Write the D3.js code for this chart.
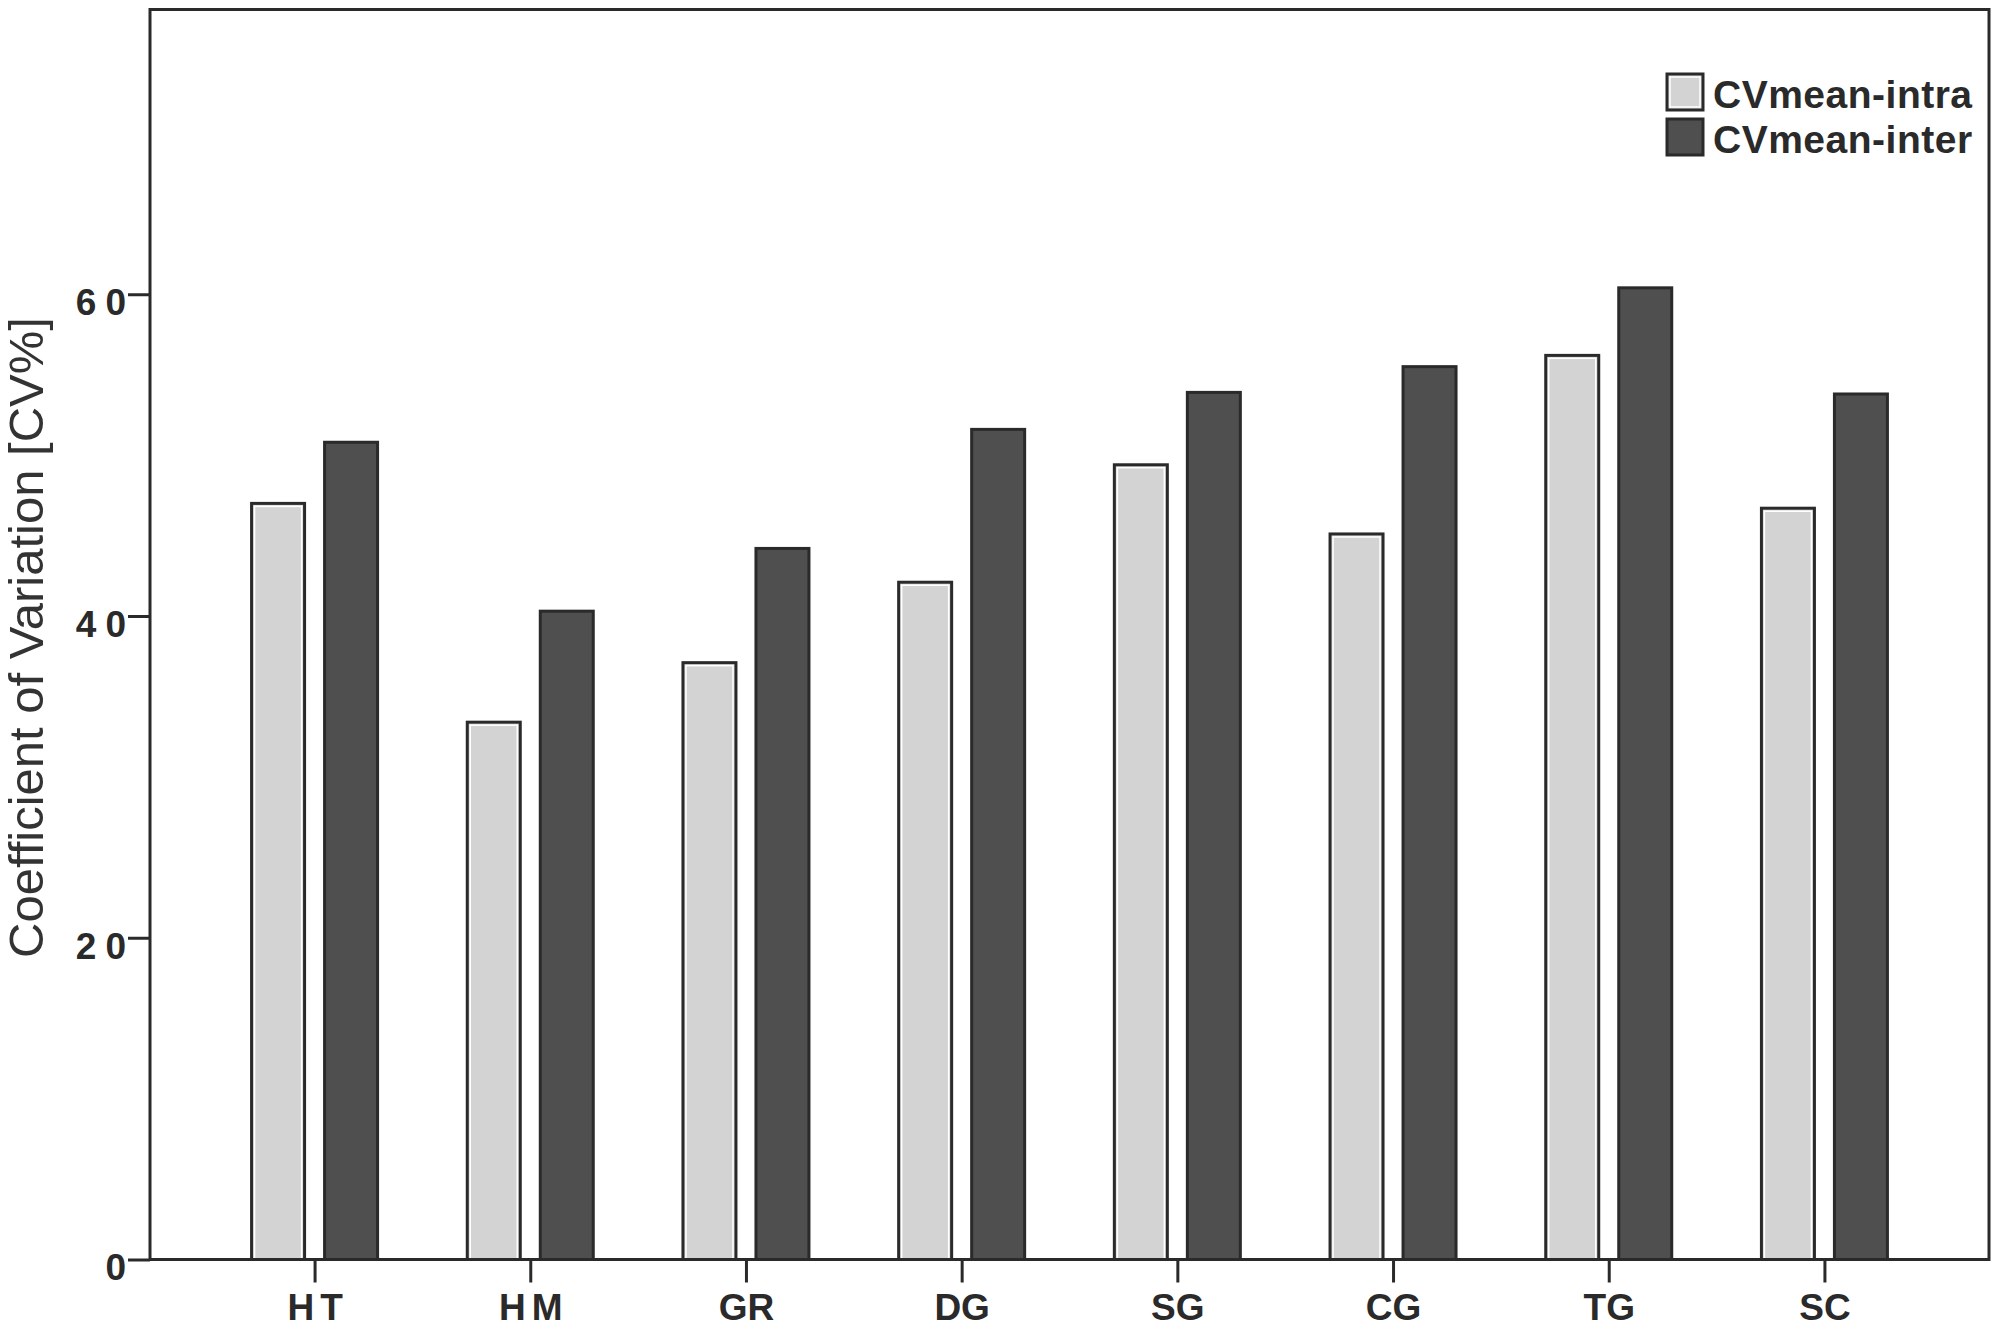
<!DOCTYPE html>
<html>
<head>
<meta charset="utf-8">
<script src="https://cdn.jsdelivr.net/npm/d3@7"></script>
<style>
  body { margin: 0; background: #fff; }
  svg { display: block; font-family: "Liberation Sans", Arial, Helvetica, sans-serif; }
</style>
</head>
<body>
<div id="chart"></div>
<script>
// values (CV%)
const categories = ["HT", "HM", "GR", "DG", "SG", "CG", "TG", "SC"];
const intraValues = [47.0, 33.4, 37.1, 42.1, 49.4, 45.1, 56.2, 46.7];
const interValues = [50.8, 40.3, 44.2, 51.6, 53.9, 55.5, 60.4, 53.8];
const seriesNames = ["CVmean-intra", "CVmean-inter"];
const seriesColors = ["#d3d3d3", "#4f4f4f"];
const yTicks = [0, 20, 40, 60];

const width = 2000, height = 1329;
const margin = { top: 9.5, right: 11, bottom: 69.5, left: 150 };
const w = width - margin.left - margin.right;
const h = height - margin.top - margin.bottom;
const ink = "#2a2a2a";

const svg = d3.select("#chart").append("svg")
    .attr("width", width).attr("height", height);
svg.append("rect").attr("width", width).attr("height", height).attr("fill", "#fff");

const g = svg.append("g").attr("transform", `translate(${margin.left},${margin.top})`);

const x = d3.scalePoint().domain(categories).range([0, w]).padding(0.763);
const sub = d3.scaleBand().domain(seriesNames).range([-63, 63]).paddingInner(0.274);
const y = d3.scaleLinear().domain([0, 77.7]).range([h, 0]);

const rows = categories.map((c, i) => ({ cat: c, vals: [intraValues[i], interValues[i]] }));

// bars
const groups = g.selectAll("g.grp").data(rows).enter().append("g")
    .attr("class", "grp")
    .attr("transform", d => `translate(${x(d.cat)},0)`);

const bars = groups.selectAll("g.bar")
    .data(d => d.vals.map((v, k) => ({ key: seriesNames[k], k: k, v: v })))
    .enter().append("g").attr("class", "bar");

bars.append("rect")
    .attr("x", d => sub(d.key))
    .attr("y", d => y(d.v))
    .attr("width", sub.bandwidth())
    .attr("height", d => h - y(d.v))
    .attr("fill", d => seriesColors[d.k])
    .attr("stroke", ink)
    .attr("stroke-width", 3);

// thin highlight inside the light bars
bars.filter(d => d.k === 0).append("rect")
    .attr("x", d => sub(d.key) + 3)
    .attr("y", d => y(d.v) + 3)
    .attr("width", sub.bandwidth() - 6)
    .attr("height", d => h - y(d.v) - 3)
    .attr("fill", "none")
    .attr("stroke", "#fff")
    .attr("stroke-width", 1.5);

// frame
g.append("rect")
    .attr("width", w).attr("height", h)
    .attr("fill", "none").attr("stroke", ink).attr("stroke-width", 3);

// y axis
const yAxis = g.append("g").call(d3.axisLeft(y).tickValues(yTicks).tickSize(22).tickPadding(-7));
yAxis.select(".domain").remove();
yAxis.selectAll("line").attr("stroke", ink).attr("stroke-width", 3);
yAxis.selectAll("text")
    .attr("dy", "0.55em")
    .attr("fill", ink)
    .style("font-size", "37px")
    .style("font-weight", "bold")
    .style("letter-spacing", "9px")
    .style("font-family", "'Liberation Sans', Arial, sans-serif");

// x axis
const xAxis = g.append("g").attr("transform", `translate(0,${h})`)
    .call(d3.axisBottom(x).tickSize(23).tickPadding(11));
xAxis.select(".domain").remove();
xAxis.selectAll("line").attr("stroke", ink).attr("stroke-width", 3);
xAxis.selectAll("text")
    .attr("fill", ink)
    .style("font-size", "37px")
    .style("font-weight", "bold")
    .style("font-family", "'Liberation Sans', Arial, sans-serif");
// the H labels are set with a wider gap in the original
xAxis.selectAll("text").filter(d => d[0] === "H")
    .style("letter-spacing", "6px")
    .attr("dx", "3px");

// y title
svg.append("text")
    .attr("transform", "translate(43,637.5) rotate(-90)")
    .attr("text-anchor", "middle")
    .attr("fill", "#333")
    .style("font-size", "49px")
    .text("Coefficient of Variation [CV%]");

// legend
const legend = svg.append("g").attr("transform", "translate(1667,74)");
const items = legend.selectAll("g").data(seriesNames).enter().append("g")
    .attr("transform", (d, i) => `translate(0,${i * 45})`);
items.append("rect")
    .attr("width", 36).attr("height", 36)
    .attr("fill", (d, i) => seriesColors[i])
    .attr("stroke", ink).attr("stroke-width", 3);
items.filter((d, i) => i === 0).append("rect")
    .attr("x", 3).attr("y", 3).attr("width", 30).attr("height", 30)
    .attr("fill", "none").attr("stroke", "#fff").attr("stroke-width", 1.5);
items.append("text")
    .attr("x", 46).attr("y", 34)
    .attr("fill", ink)
    .style("font-size", "39px")
    .style("font-weight", "bold")
    .style("letter-spacing", "0.5px")
    .text(d => d);
</script>
</body>
</html>
